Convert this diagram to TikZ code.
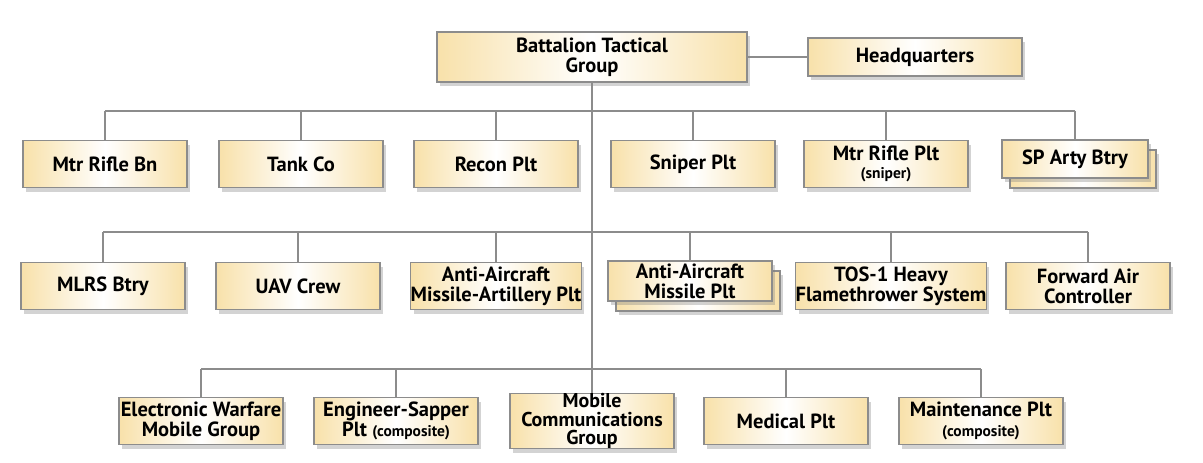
\documentclass[tikz,border=0pt]{standalone}
\usepackage{fontspec}
\setmainfont{PT Sans}
\usetikzlibrary{shadows}
\definecolor{tan}{HTML}{F8E1AA}
\definecolor{edge}{HTML}{8C8C8C}
\begin{document}
\begin{tikzpicture}[x=1pt,y={(0,-1pt)},
 box/.style={draw=edge,line width=1.3pt,left color=tan,right color=tan,middle color=white,
   drop shadow={opacity=0.35,shadow xshift=3pt,shadow yshift=-4pt},
   minimum width=164pt,minimum height=47pt,inner sep=0pt,align=center,
   font=\fontsize{20.5}{20}\selectfont\bfseries},
 line/.style={draw=edge,line width=1.3pt}]
\newcommand\smalltxt[1]{{\fontsize{15.5}{15}\selectfont #1}}
\useasboundingbox (0,0) rectangle (1203,463);
\node[box,minimum width=310pt,minimum height=50pt] (btg) at (592,57) {Battalion Tactical\\Group};
\node[box,minimum width=214pt,minimum height=38pt] (hq) at (915,57) {Headquarters};
\coordinate (b1) at (592,111);
\coordinate (b2) at (592,232);
\coordinate (b3) at (592,369);
% row 1
\node[box] (a1) at (105,164) {Mtr Rifle Bn};
\node[box] (a2) at (301,164) {Tank Co};
\node[box] (a3) at (496,164) {Recon Plt};
\node[box] (a4) at (693,164) {Sniper Plt};
\node[box] (a5) at (886,164) {Mtr Rifle Plt\\[-2pt]\smalltxt{(sniper)}};
\node[box,minimum width=146pt,minimum height=38pt] (a6b) at (1083,169) {};
\node[box,minimum width=146pt,minimum height=38pt] (a6) at (1075,159) {SP Arty Btry};
% row 2
\node[box] (c1) at (103,286) {MLRS Btry};
\node[box] (c2) at (298,286) {UAV Crew};
\node[box] (c3) at (496,286) {Anti-Aircraft\\Missile-Artillery Plt};
\node[box,minimum height=40pt] (c4b) at (698,291) {};
\node[box,minimum height=40pt] (c4) at (690,281) {Anti-Aircraft\\Missile Plt};
\node[box] (c5) at (891,286) {TOS-1 Heavy\\Flamethrower System};
\node[box] (c6) at (1088,286) {Forward Air\\Controller};
% row 3
\node[box] (d1) at (201,421) {Electronic Warfare\\Mobile Group};
\node[box] (d2) at (396,421) {Engineer-Sapper\\Plt \smalltxt{(composite)}};
\node[box,font=\fontsize{20}{18.5}\selectfont\bfseries] (d3) at (592,421) {Mobile\\Communications\\Group};
\node[box] (d4) at (786,421) {Medical Plt};
\node[box] (d5) at (981,421) {Maintenance Plt\\\smalltxt{(composite)}};
% connectors
\path[line] (btg.east) -- (hq.west);
\path[line] (btg.south) -- (d3.north);
\path[line] (a1.north |- b1) -- (a6.north |- b1);
\foreach \n in {a1,a2,a3,a4,a5,a6} \path[line] (\n.north) -- (\n.north |- b1);
\path[line] (c1.north |- b2) -- (c6.north |- b2);
\foreach \n in {c1,c2,c3,c4,c5,c6} \path[line] (\n.north) -- (\n.north |- b2);
\path[line] (d1.north |- b3) -- (d5.north |- b3);
\foreach \n in {d1,d2,d4,d5} \path[line] (\n.north) -- (\n.north |- b3);
\end{tikzpicture}
\end{document}
